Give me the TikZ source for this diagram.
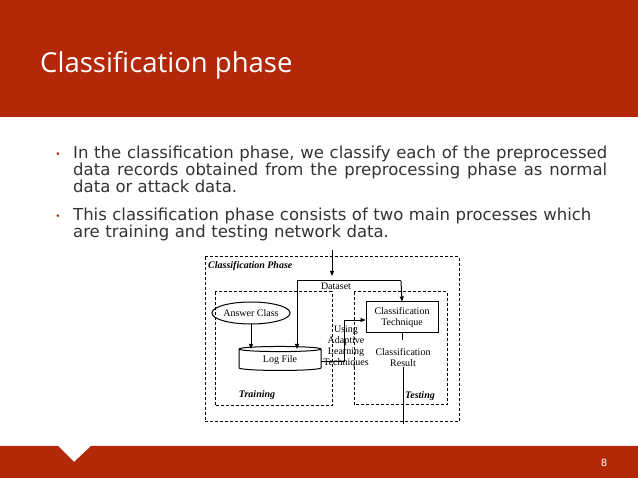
\documentclass[tikz,border=0pt]{standalone}
\usepackage{fontspec}
\setmainfont{DejaVu Sans}
\newfontfamily\titlefont{Open Sans}
\newfontfamily\serif{Liberation Serif}
\usetikzlibrary{shapes.geometric,arrows.meta}
\definecolor{hdr}{RGB}{178,40,8}
\begin{document}
\begin{tikzpicture}[x=1pt,y=-1pt,
  dbox/.style={draw,dashed,line width=1pt,dash pattern=on 3pt off 2pt},
  ln/.style={line width=1pt},
  arr/.style={ln,-{Triangle[length=5pt,width=4pt]}},
  dtext/.style={font=\serif\fontsize{10}{11}\selectfont,align=center,inner sep=0pt}]
\useasboundingbox (0,0) rectangle (638,478);
\fill[hdr] (0,0) rectangle (638,117);
\node[anchor=west,text=white,font=\titlefont\fontsize{27.5}{30}\selectfont,inner sep=0pt] (title) at (40,65) {Classification phase};
\fill[hdr] (0,446) -- (58,446) -- (74,462) -- (91,446) -- (638,446) -- (638,478) -- (0,478) -- cycle;
\node[text=white,font=\fontsize{10}{12}\selectfont] (pg) at (604,463) {8};
\node[text=hdr,font=\fontsize{9}{10}\selectfont] (b1) at (58,155) {•};
\node[text=hdr,font=\fontsize{9}{10}\selectfont] (b2) at (58,217) {•};
\node[anchor=north west,text width=534pt,align=justify,inner sep=0pt,font=\fontsize{16.5}{17}\selectfont,text=black!80] (t1) at (73,146) {In the classification phase, we classify each of the preprocessed data records obtained from the preprocessing phase as normal data or attack data.};
\node[anchor=north west,text width=534pt,align=left,inner sep=0pt,font=\fontsize{16.5}{17}\selectfont,text=black!80] (t2) at (73,208) {This classification phase consists of two main processes which are training and testing network data.};
% diagram
\draw[dbox] (205,257) rectangle (459,422);
\draw[dbox] (215,292) rectangle (332,406);
\draw[dbox] (354,292) rectangle (447,405);
\node[dtext,anchor=north west] (cp) at (208,261) {\bfseries\itshape Classification Phase};
\node[dtext] (tr) at (257,395) {\bfseries\itshape Training};
\node[dtext] (te) at (420,396) {\bfseries\itshape Testing};
\coordinate (top) at (332,250);
\coordinate (split) at (332,276);
\node[dtext] (ds) at (336,286) {Dataset};
\node[draw,ln,minimum width=72pt,minimum height=31pt,dtext] (ct) at (402,317.5) {Classification\\Technique};
\node[draw,ln,ellipse,minimum width=72pt,minimum height=22pt,dtext,inner sep=0pt] (ac) at (251,313) {Answer Class};
\node[draw,ln,cylinder,shape border rotate=90,aspect=0.15,minimum width=82pt,minimum height=24pt,dtext] (lf) at (280,360) {Log File};
\node[dtext] (ul) at (346,347) {Using\\Adaptive\\Learning\\Techniques};
\node[dtext] (cr) at (403,358) {Classification\\Result};
\coordinate (out) at (403,424);
\draw[arr] (top) -- (split);
\draw[ln] (297,281) -- (401,281);
\draw[arr] (297,281) -- (297,349);
\draw[arr] (401,281) -- (ct.north);
\draw[arr] (ac.south) -- (251,349);
\draw[ln,line width=0.6pt] (321,361) -- (344,361) -- (344,320);
\draw[arr,line width=0.6pt] (344,320) -- (ct.west |- 320,320);
\draw[ln] (ct.south) -- (402,340);
\draw[ln] (cr.south) -- (out);
\end{tikzpicture}
\end{document}
